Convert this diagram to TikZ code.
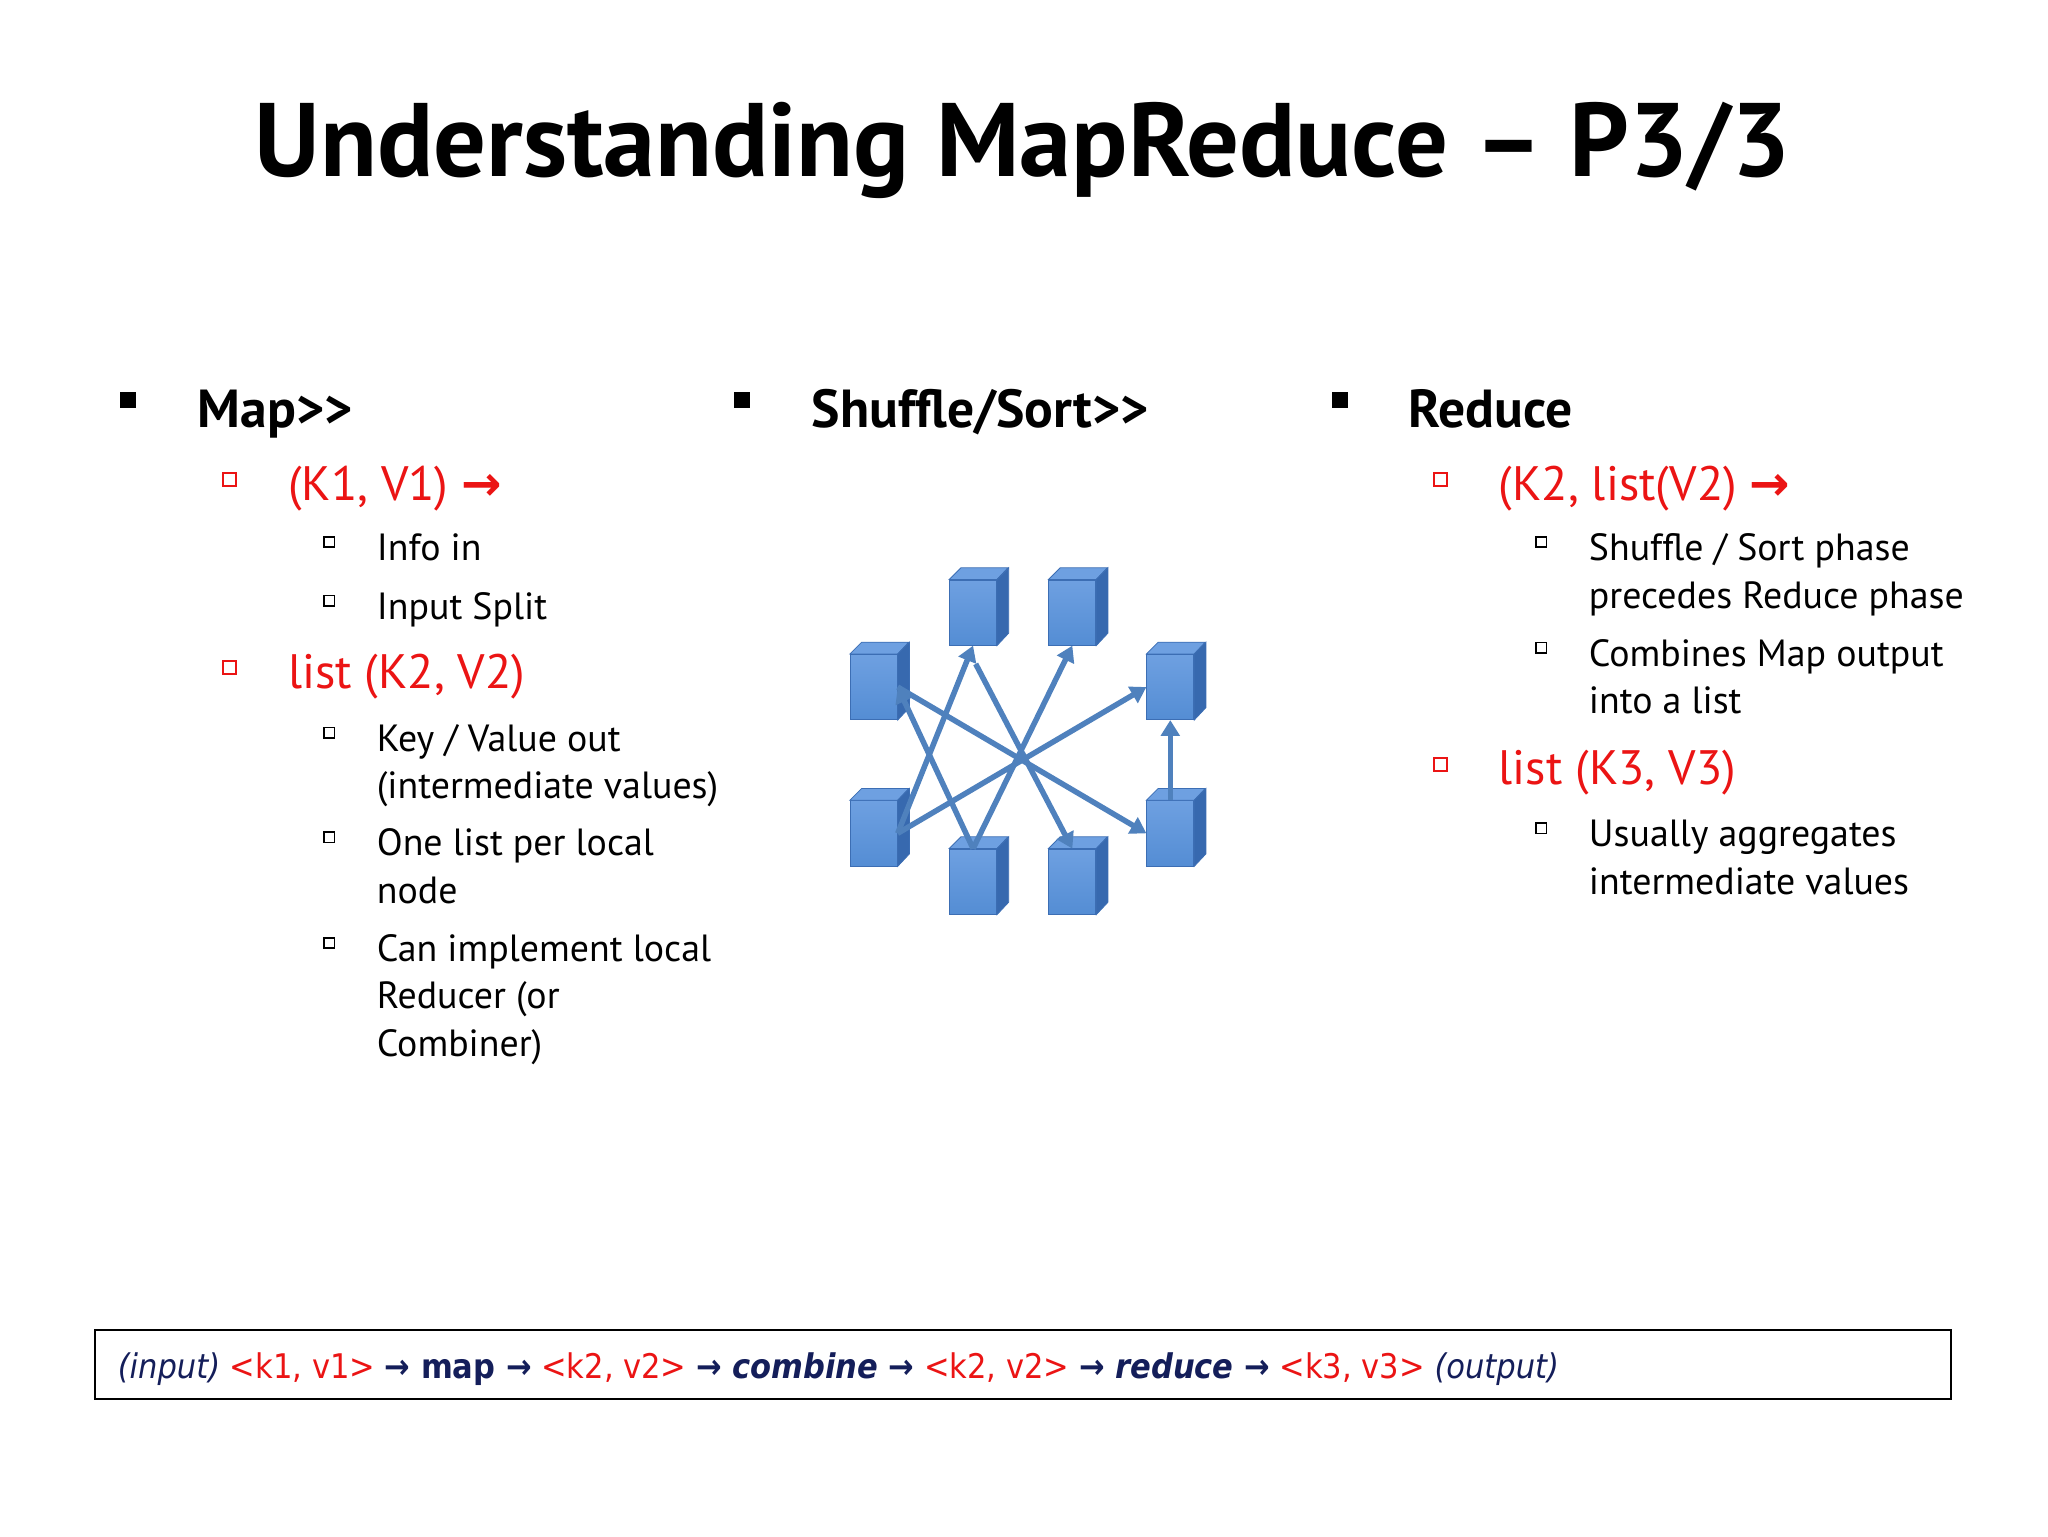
\documentclass[tikz,border=0pt]{standalone}
\usepackage{fontspec}
\setmainfont{PT Sans}
\newfontfamily\symf{DejaVu Sans}
\newfontfamily\condf{DejaVu Sans Condensed}
\usetikzlibrary{arrows.meta}
\definecolor{cubeF}{RGB}{84,141,212}
\definecolor{cubeT}{RGB}{110,160,225}
\definecolor{cubeS}{RGB}{55,105,175}
\definecolor{cubeE}{RGB}{60,110,180}
\definecolor{arr}{RGB}{79,129,189}
\definecolor{navy}{RGB}{20,30,90}
\definecolor{rd}{RGB}{235,20,20}
\tikzset{
 lvla/.style={anchor=base west,font=\fontsize{41}{44}\selectfont\bfseries},
 lvlb/.style={anchor=base west,text=rd,font=\fontsize{37}{40}\selectfont},
 lvlc/.style={anchor=base west,font=\fontsize{29}{36.5}\selectfont,align=left},
 blt/.style={fill=black,minimum size=12pt,inner sep=0pt},
 bltb/.style={draw=rd,line width=1.5pt,minimum size=10pt,inner sep=0pt},
 bltc/.style={draw=black,line width=1.2pt,minimum size=8pt,inner sep=0pt},
 cubef/.style={draw=cubeE,line width=0.6pt,top color=cubeT,bottom color=cubeF,minimum width=36pt,minimum height=50pt,inner sep=0pt},
 link/.style={draw=arr,line width=4.2pt,-{Triangle[length=12pt,width=14pt]}},
}
\newcommand{\cube}[3]{%
 \node[cubef] (#1) at (#2,#3) {};
 \fill[cubeT,draw=cubeE,line width=0.6pt] (#1.north west)--++(9,-9)--++(36,0)--(#1.north east)--cycle;
 \fill[cubeS,draw=cubeE,line width=0.6pt] (#1.north east)--++(9,-9)--++(0,50)--(#1.south east)--cycle;
}
\newcommand{\rarr}{{\symf\bfseries →}}
\begin{document}
\begin{tikzpicture}[x=1pt,y=-1pt]
\useasboundingbox (0,0) rectangle (1568,1176);
\fill[white] (0,0) rectangle (1568,1176);
\node[font=\fontsize{80}{84}\selectfont\bfseries] (title) at (783,115) {Understanding MapReduce -- P3/3};
% Map column
\node[blt] (b1) at (98,306) {};
\node[lvla] (map) at (148,327) {Map>{}>};
\node[bltb] (b11) at (176,367) {};
\node[lvlb] (k1) at (217,383) {(K1, V1) \rarr};
\node[bltc] (b111) at (252,415) {};
\node[lvlc] (t1) at (285,429) {Info in};
\node[bltc] (b112) at (252,460) {};
\node[lvlc] (t2) at (285,474) {Input Split};
\node[bltb] (b12) at (176,511) {};
\node[lvlb] (k2) at (217,527) {list (K2, V2)};
\node[bltc] (b121) at (252,561) {};
\node[lvlc] (t3) at (285,611.5) {Key / Value out\\(intermediate values)};
\node[bltc] (b122) at (252,641) {};
\node[lvlc] (t4) at (285,691.5) {One list per local\\node};
\node[bltc] (b123) at (252,722) {};
\node[lvlc] (t5) at (285,809) {Can implement local\\Reducer (or\\Combiner)};
% Shuffle column
\node[blt] (b2) at (568,306) {};
\node[lvla] (sh) at (618,327) {Shuffle/Sort>{}>};
% Reduce column
\node[blt] (b3) at (1026,306) {};
\node[lvla] (red) at (1075,327) {Reduce};
\node[bltb] (b31) at (1103,367) {};
\node[lvlb] (k3) at (1144,383) {(K2, list(V2) \rarr};
\node[bltc] (b311) at (1180,415) {};
\node[lvlc] (t6) at (1213,465.5) {Shuffle / Sort phase\\precedes Reduce phase};
\node[bltc] (b312) at (1180,496) {};
\node[lvlc] (t7) at (1213,546.5) {Combines Map output\\into a list};
\node[bltb] (b32) at (1103,585) {};
\node[lvlb] (k4) at (1144,601) {list (K3, V3)};
\node[bltc] (b321) at (1180,634) {};
\node[lvlc] (t8) at (1213,684.5) {Usually aggregates\\intermediate values};
% cubes
\cube{ct1}{745}{469}
\cube{ct2}{821}{469}
\cube{cl1}{669}{526}
\cube{cl2}{669}{638}
\cube{cb1}{745}{675}
\cube{cb2}{821}{675}
\cube{cr1}{896}{526}
\cube{cr2}{896}{638}
\draw[link] (cl2.east) -- (ct1.south);
\draw[link] (cl2.east) -- (cr1.west);
\draw[link] (cb1.north) -- (cl1.east);
\draw[link] (cb1.north) -- (ct2.south);
\draw[link] (ct1.south) ++(2,14) coordinate (s1) (s1) -- (cb2.north);
\draw[link] (cl1.east) -- (cr2.west);
\draw[link] (cr2.north) -- (cr1.south);
% bottom box
\node[draw=black,line width=1.5pt,minimum width=1421pt,minimum height=53pt,inner sep=0pt] (box) at (783.5,1044.5) {};
\node[anchor=west,inner sep=0pt,font=\condf\fontsize{26}{30}\selectfont] (flow) at (90,1048) {%
\textcolor{navy}{\textit{(input)}} \textcolor{rd}{<k1, v1>} \textcolor{navy}{\textbf{→ map →}} \textcolor{rd}{<k2, v2>} \textcolor{navy}{\textbf{→ \textit{combine} →}} \textcolor{rd}{<k2, v2>} \textcolor{navy}{\textbf{→ \textit{reduce} →}} \textcolor{rd}{<k3, v3>} \textcolor{navy}{\textit{(output)}}};
\end{tikzpicture}
\end{document}
